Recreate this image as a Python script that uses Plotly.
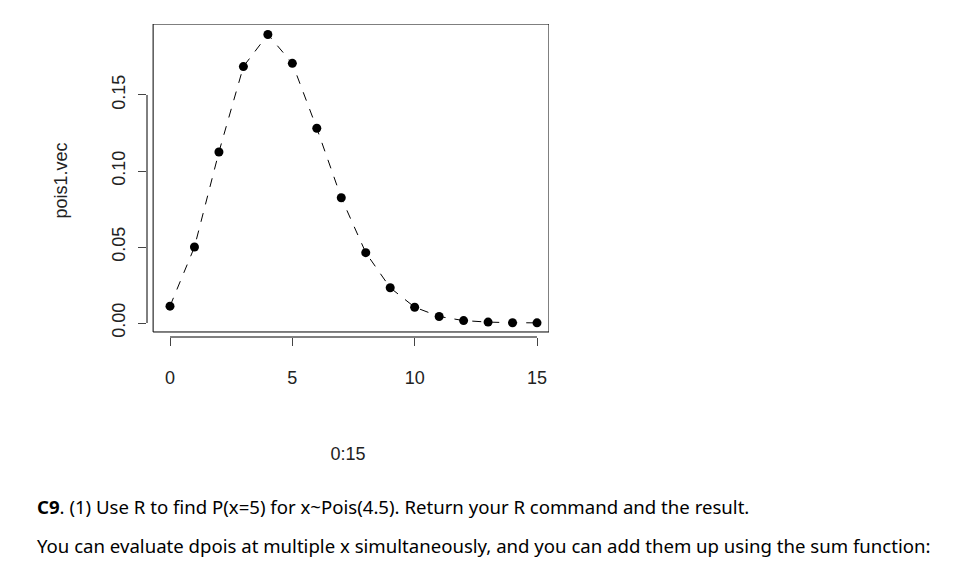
import plotly.graph_objects as go

x_vals = list(range(16))
pois1_vec = [0.0111, 0.0500, 0.1125, 0.1687, 0.1898, 0.1708, 0.1281, 0.0824,
             0.0463, 0.0232, 0.0104, 0.0043, 0.0016, 0.0006, 0.0002, 0.0001]
x_ticks = [0, 5, 10, 15]
y_ticks = [0.00, 0.05, 0.10, 0.15]
y_ticklabels = ["0.00", "0.05", "0.10", "0.15"]

fig = go.Figure()
fig.add_trace(go.Scatter(
    x=x_vals, y=pois1_vec, mode="lines+markers",
    line=dict(color="black", width=1, dash="dash"),
    marker=dict(color="black", size=9),
))

font = dict(family="Liberation Sans, Arial", size=18, color="#222")
fig.update_layout(
    width=960, height=568,
    margin=dict(l=139, r=419, t=16, b=239),
    plot_bgcolor="white", paper_bgcolor="white",
    showlegend=False,
    xaxis=dict(range=[-0.94, 15.49], tickvals=x_ticks, ticks="outside", ticklen=8,
               ticklabelstandoff=16,
               showgrid=False, zeroline=False, showline=False, tickfont=font,
               title=dict(text="0:15", font=font, standoff=60)),
    yaxis=dict(range=[-0.0092, 0.1967], tickvals=y_ticks, ticktext=y_ticklabels,
               ticks="outside", ticklen=8, tickangle=-90, showgrid=False,
               ticklabelstandoff=6,
               zeroline=False, showline=False, tickfont=font,
               title=dict(text="pois1.vec", font=font, standoff=36)),
)

# plot box and R-style axis lines
fig.add_shape(type="rect", xref="x", yref="y", x0=-0.69, x1=15.49, y0=-0.0059, y1=0.1967,
              line=dict(color="black", width=1))
fig.add_shape(type="line", xref="x", yref="paper", x0=min(x_ticks), x1=max(x_ticks), y0=0, y1=0,
              line=dict(color="black", width=1))
fig.add_shape(type="line", xref="paper", yref="y", x0=0, x1=0, y0=min(y_ticks), y1=max(y_ticks),
              line=dict(color="black", width=1))

txt = dict(family="Noto Sans, Open Sans", size=18.6, color="black")
fig.add_annotation(xref="paper", yref="paper", x=-0.278, y=-0.588, xanchor="left", showarrow=False,
                   text="<b>C9</b>. (1) Use R to find P(x=5) for x~Pois(4.5). Return your R command and the result.",
                   font=txt)
fig.add_annotation(xref="paper", yref="paper", x=-0.278, y=-0.712, xanchor="left", showarrow=False,
                   text="You can evaluate dpois at multiple x simultaneously, and you can add them up using the sum function:",
                   font=txt)

fig.write_html("out.html")
